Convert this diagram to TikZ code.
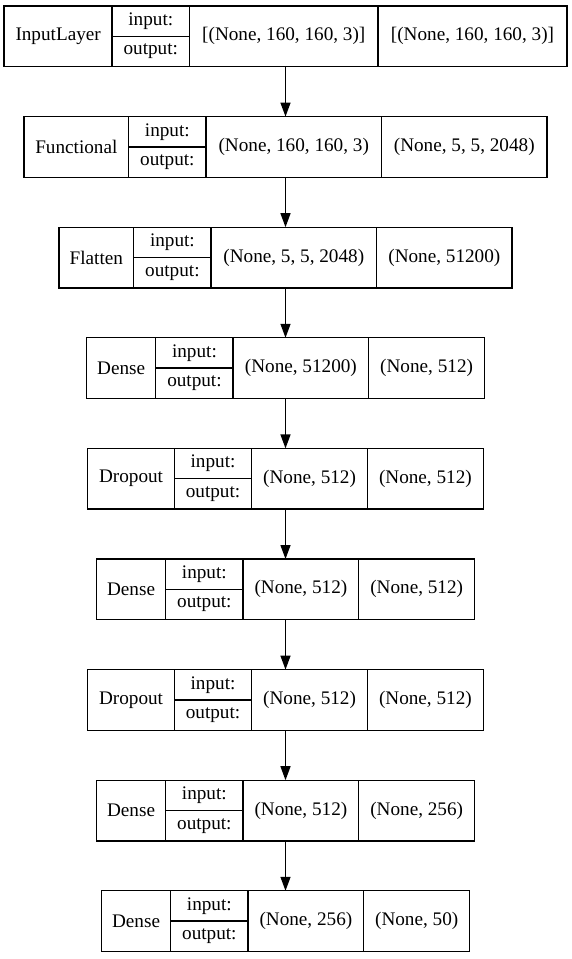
\documentclass[tikz,border=0pt]{standalone}
\usepackage{fontspec}
\setmainfont{Liberation Serif}
\usetikzlibrary{arrows.meta,positioning}

\begin{document}
\begin{tikzpicture}[x=0.75pt, y=-0.75pt,
    every node/.style={font=\fontsize{14.4pt}{16pt}\selectfont},
    frame/.style={rectangle, inner sep=0pt, outer sep=0pt, minimum height=\rowH*\px},
    cell/.style={draw, line width=1pt, rectangle, inner sep=0pt, outer sep=0pt, minimum height=\rowH*\px},
    iocell/.style={draw, line width=1pt, rectangle, inner sep=0pt, outer sep=0pt,
      minimum width=\ioW*\px, minimum height=0.5*\rowH*\px},
    edge/.style={line width=1pt, -{Triangle[length=10.5pt,width=7.5pt]}}]

  % Parameters definitions
  \def\px{0.75pt}    % one pixel of the reference
  \def\xmid{285.5}   % X position of the centre line
  \def\rowTop{36.35} % Y position of the first row centre
  \def\rowStep{110.6}% Distance between two rows
  \def\rowH{60.7}    % Height of a row
  \def\ioW{77.3}     % Width of the input/output cell

  \useasboundingbox (0,0) rectangle (571,959);

  % #1 id, #2 label width, #3 input width, #4 output width, #5 name, #6 input, #7 output
  \newcommand{\LayerRow}[7]{%
    \pgfmathsetmacro{\wrow}{#2+\ioW+#3+#4}
    \pgfmathsetmacro{\yrow}{\rowTop+(#1-1)*\rowStep}
    \node[frame, minimum width=\wrow*\px] (l#1) at (\xmid, \yrow) {};
    \node[cell, minimum width=#2*\px, anchor=west] (l#1name) at (l#1.west) {#5};
    \node[iocell, anchor=south west] (l#1i) at (l#1name.east) {input:};
    \node[iocell, anchor=north west] (l#1o) at (l#1name.east) {output:};
    \node[cell, minimum width=#3*\px, anchor=west] (l#1in) at (l#1i.south east) {#6};
    \node[cell, minimum width=#4*\px, right=0pt of l#1in] (l#1out) {#7};
  }

  % Layers
  \LayerRow{1}{108.0}{188.7}{188.7}{InputLayer}{[(None, 160, 160, 3)]}{[(None, 160, 160, 3)]}
  \LayerRow{2}{104.7}{175.5}{165.5}{Functional}{(None, 160, 160, 3)}{(None, 5, 5, 2048)}
  \LayerRow{3}{74.9}{165.5}{135.6}{Flatten}{(None, 5, 5, 2048)}{(None, 51200)}
  \LayerRow{4}{69.3}{135.6}{115.8}{Dense}{(None, 51200)}{(None, 512)}
  \LayerRow{5}{86.7}{115.8}{115.8}{Dropout}{(None, 512)}{(None, 512)}
  \LayerRow{6}{69.3}{115.8}{115.8}{Dense}{(None, 512)}{(None, 512)}
  \LayerRow{7}{86.7}{115.8}{115.8}{Dropout}{(None, 512)}{(None, 512)}
  \LayerRow{8}{69.3}{115.8}{115.8}{Dense}{(None, 512)}{(None, 256)}
  \LayerRow{9}{69.3}{115.8}{105.8}{Dense}{(None, 256)}{(None, 50)}

  % Connections
  \foreach \a/\b in {1/2,2/3,3/4,4/5,5/6,6/7,7/8,8/9}
    \draw[edge] (l\a) -- (l\b);
\end{tikzpicture}
\end{document}
